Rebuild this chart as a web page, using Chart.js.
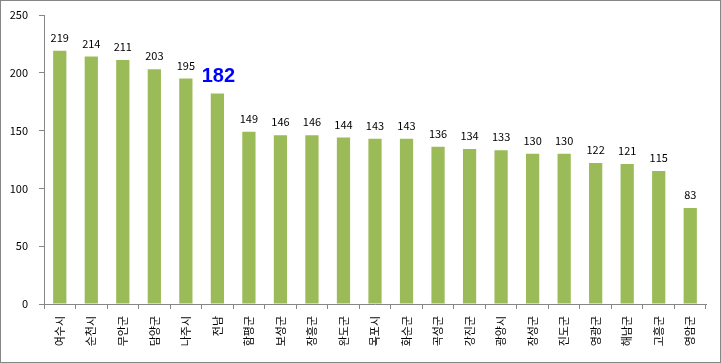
<!DOCTYPE html>
<html><head><meta charset="utf-8">
<script src="https://cdn.jsdelivr.net/npm/chart.js@4"></script>
<style>html,body{margin:0;padding:0;background:#fff}#w{width:721px;height:363px}</style>
</head><body><div id="w"><canvas id="c" width="721" height="363"></canvas></div>
<script>
const categories = ["여수시","순천시","무안군","담양군","나주시","전남","함평군","보성군","장흥군","완도군","목포시","화순군","곡성군","강진군","광양시","장성군","진도군","영광군","해남군","고흥군","영암군"];
const values = [219,214,211,203,195,182,149,146,146,144,143,143,136,134,133,130,130,122,121,115,83];
const yTicks = [0,50,100,150,200,250];
const highlight = "전남";

const FONT = "'Noto Sans CJK KR','DejaVu Sans',sans-serif";

const frame = {
  id:'frame',
  beforeDraw(chart){
    const ctx=chart.ctx;
    ctx.save();ctx.fillStyle='#fff';ctx.fillRect(0,0,chart.width,chart.height);
    ctx.strokeStyle='#868686';ctx.lineWidth=1;ctx.strokeRect(0.5,0.5,chart.width-1,chart.height-1);
    ctx.restore();
  }
};
const labels = {
  id:'vlabels',
  afterDatasetsDraw(chart){
    const ctx=chart.ctx;
    const meta=chart.getDatasetMeta(0);
    ctx.save();ctx.textAlign='center';ctx.textBaseline='alphabetic';
    meta.data.forEach((bar,i)=>{
      if(categories[i]===highlight){
        ctx.font="bold 20px 'Liberation Sans',Arial,sans-serif";ctx.fillStyle='#0000FF';
        ctx.fillText(String(values[i]),bar.x+1,bar.y-12);
      } else {
        ctx.font="11px "+FONT;ctx.fillStyle='#000';
        ctx.fillText(String(values[i]),bar.x,bar.y-9);
      }
    });
    ctx.restore();
  }
};

new Chart(document.getElementById('c'),{
  type:'bar',
  data:{labels:categories,datasets:[{data:values,backgroundColor:'#9BBB59',borderWidth:0,barPercentage:0.42,categoryPercentage:1}]},
  plugins:[frame,labels],
  options:{
    responsive:false,animation:false,
    layout:{padding:{top:15,right:15,left:0,bottom:0}},
    plugins:{legend:{display:false},tooltip:{enabled:false}},
    scales:{
      x:{
        afterFit(s){s.height=59;s.paddingLeft=0;s.paddingRight=0;s.paddingTop=0;s.paddingBottom=0;},
        grid:{display:true,drawOnChartArea:false,offset:true,color:'#868686',tickLength:5},
        border:{color:'#868686'},
        ticks:{minRotation:90,maxRotation:90,autoSkip:false,color:'#000',font:{family:FONT,size:11},padding:7}
      },
      y:{
        min:0,max:250,
        afterFit(s){s.width=44;s.paddingLeft=0;s.paddingRight=0;s.paddingTop=0;s.paddingBottom=0;},
        afterBuildTicks(s){s.ticks=yTicks.map(v=>({value:v}));},
        grid:{display:true,drawOnChartArea:false,color:'#868686',tickLength:5},
        border:{color:'#868686'},
        ticks:{color:'#000',font:{family:FONT,size:11},padding:11}
      }
    }
  }
});
</script></body></html>
